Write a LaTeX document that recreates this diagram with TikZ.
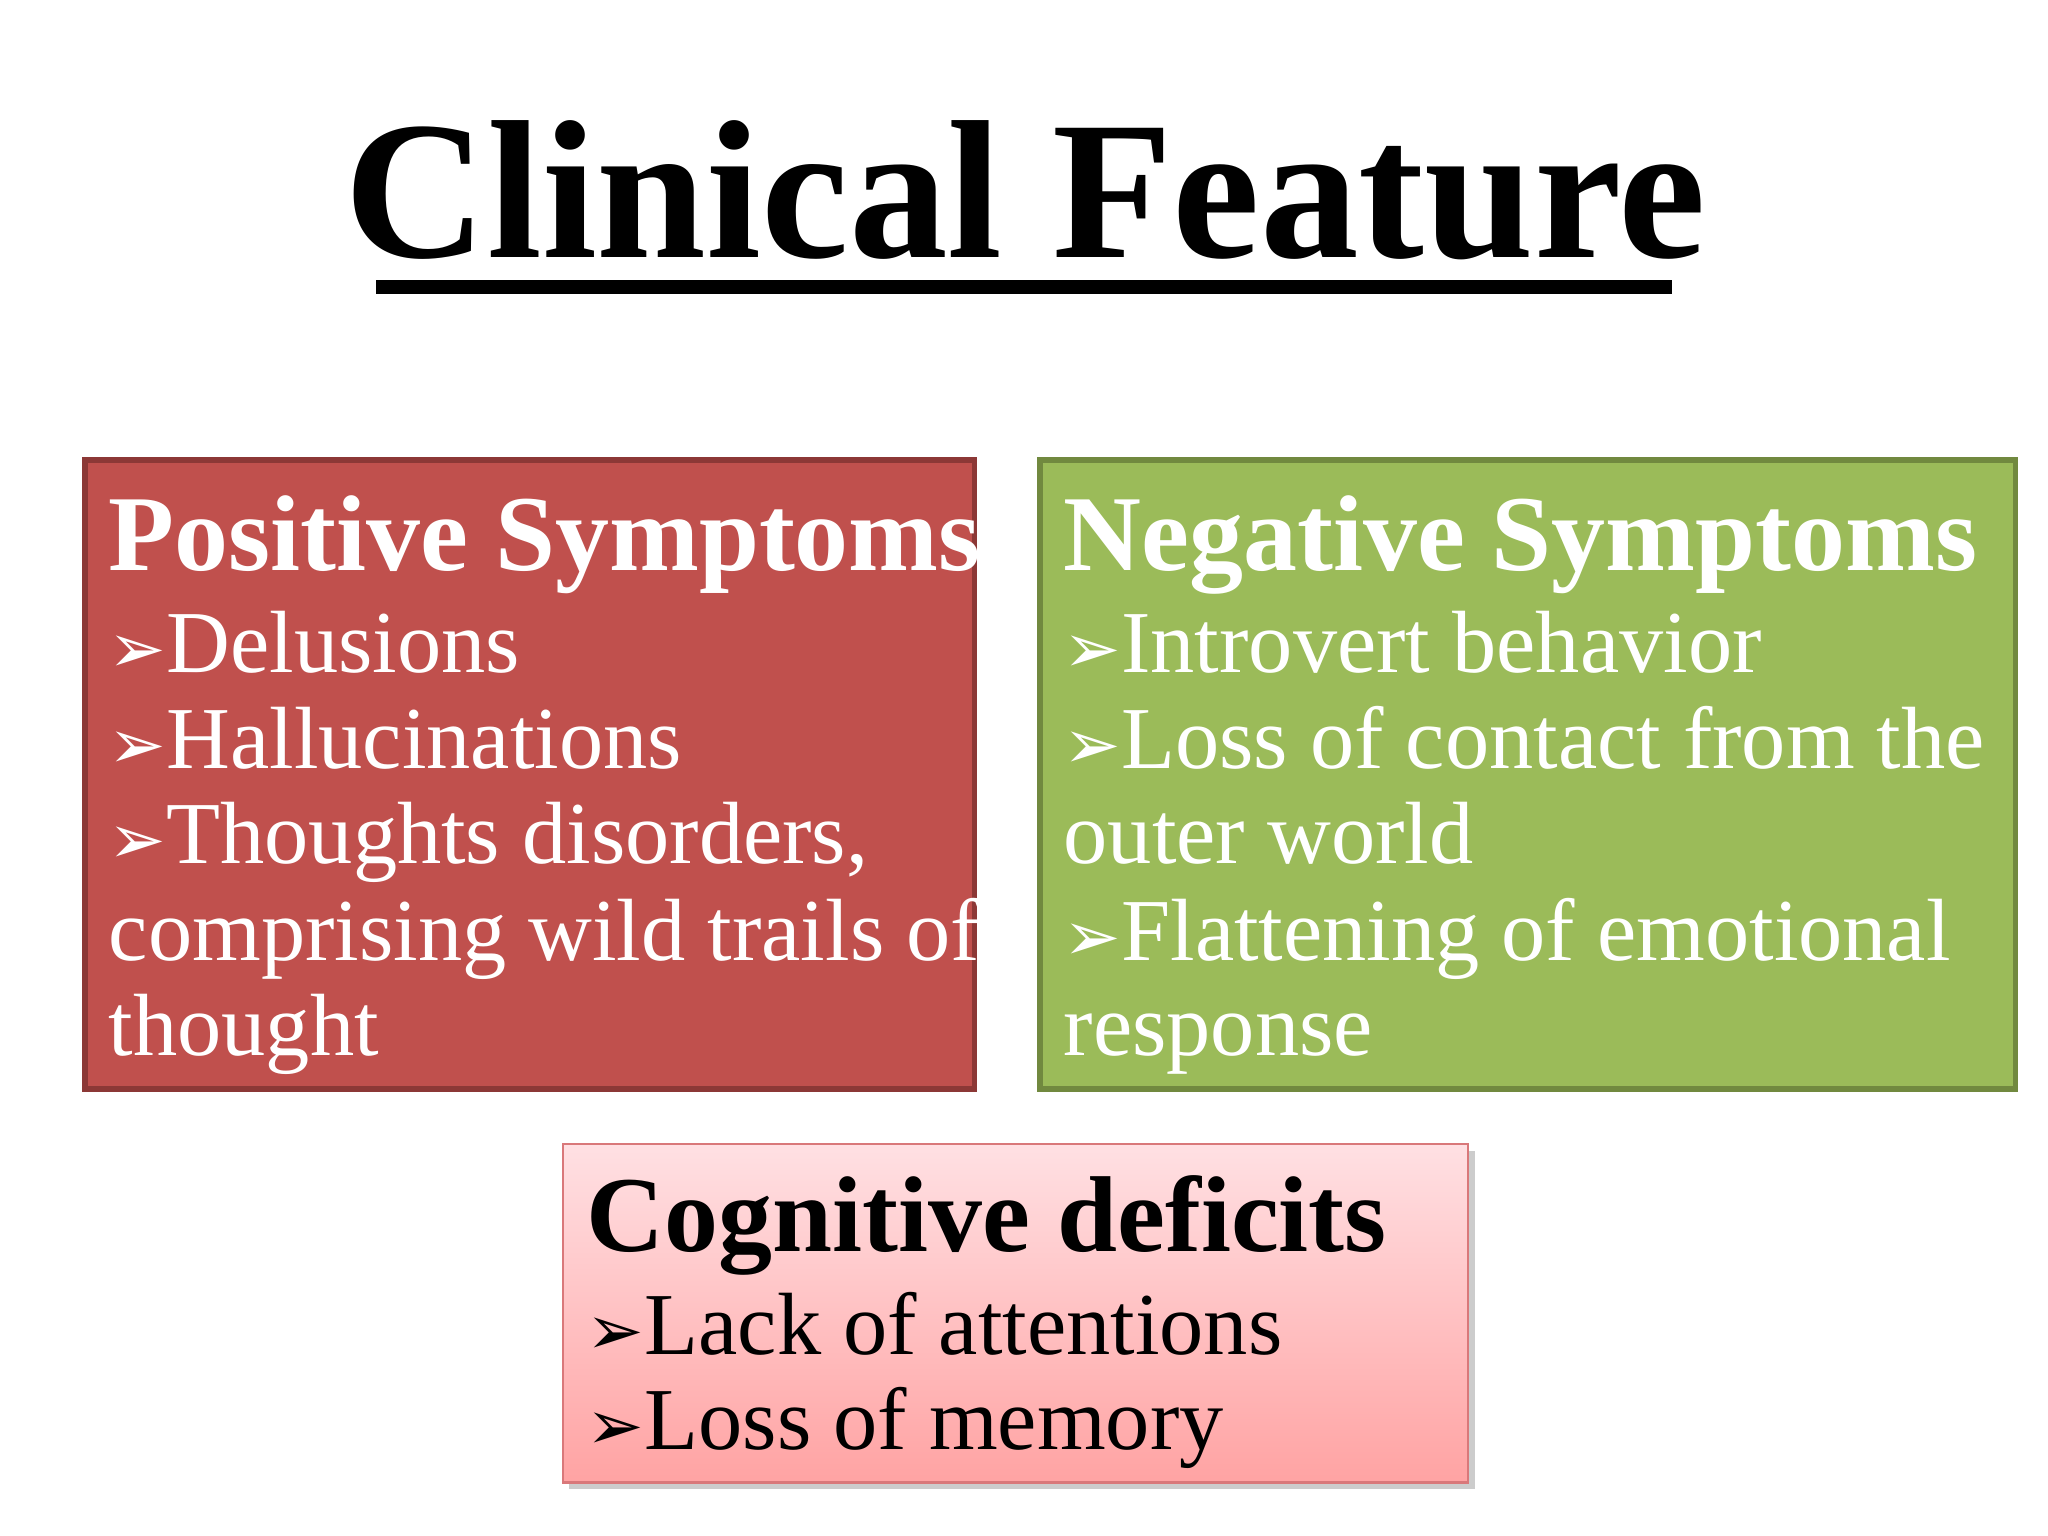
\documentclass[tikz,border=0pt]{standalone}
\usepackage{fontspec}
\setmainfont{Liberation Serif}
\newfontfamily\symf{DejaVu Sans}
\definecolor{redf}{HTML}{C0504D}\definecolor{redd}{HTML}{8C3836}
\definecolor{grnf}{HTML}{9BBB59}\definecolor{grnd}{HTML}{71893F}
\definecolor{pkt}{HTML}{FFE0E3}\definecolor{pkb}{HTML}{FFA3A3}\definecolor{pkd}{HTML}{D9787A}
\newcommand{\arr}{{\symf\fontsize{30pt}{30pt}\selectfont ➢}}
\begin{document}
\begin{tikzpicture}[x=0.02cm,y=-0.02cm,
  head/.style={anchor=base west,inner sep=0,font=\fontsize{47pt}{47pt}\selectfont\bfseries},
  body/.style={anchor=base west,inner sep=0,font=\fontsize{38.5pt}{38.5pt}\selectfont}]
\useasboundingbox (0,0) rectangle (1568,1176);
\node[anchor=base,inner sep=0,font=\fontsize{86pt}{86pt}\selectfont\bfseries] (title) at (785,197) {Clinical Feature};
\fill (288,214) rectangle (1280,225);
\draw[redd,line width=2.5pt,fill=redf] (65,352) rectangle (746,834);
\draw[grnd,line width=2.5pt,fill=grnf] (796,352) rectangle (1543,834);
\fill[gray!40] (436,881) rectangle (1129,1140);
\shade[top color=pkt,bottom color=pkb] (431,876) rectangle (1124,1135);
\draw[pkd,line width=1pt] (431,876) rectangle (1124,1135);
\begin{scope}[white]
\node[head] (p0) at (83,437) {Positive Symptoms};
\node[body] (p1) at (83,515) {\arr Delusions};
\node[body] (p2) at (83,588) {\arr Hallucinations};
\node[body] (p3) at (83,661) {\arr Thoughts disorders,};
\node[body] (p4) at (83,735) {comprising wild trails of};
\node[body] (p5) at (83,808) {thought};
\node[head] (n0) at (814,437) {Negative Symptoms};
\node[body] (n1) at (814,515) {\arr Introvert behavior};
\node[body] (n2) at (814,588) {\arr Loss of contact from the};
\node[body] (n3) at (814,661) {outer world};
\node[body] (n4) at (814,735) {\arr Flattening of emotional};
\node[body] (n5) at (814,808) {response};
\end{scope}
\node[head] (c0) at (449,958) {Cognitive deficits};
\node[body] (c1) at (449,1037) {\arr Lack of attentions};
\node[body] (c2) at (449,1110) {\arr Loss of memory};
\end{tikzpicture}
\end{document}
